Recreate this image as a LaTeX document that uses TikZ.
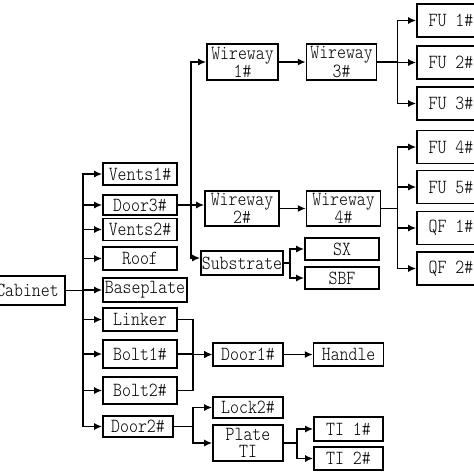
\documentclass[tikz,border=0pt]{standalone}
\usepackage{fontspec}
\newfontfamily\boxfont{lmmonolt10-regular.otf}[FakeStretch=0.85]
\usetikzlibrary{arrows.meta, positioning}
\tikzstyle{block} = [draw, fill=white, rectangle, line width=1.6pt,
    inner sep=0pt, minimum height=22pt, minimum width=74pt, align=center,
    font=\boxfont\fontsize{20}{17}\selectfont]
\tikzstyle{tall} = [minimum height=36pt]
\tikzstyle{unit} = [minimum height=33pt, minimum width=68pt]
\tikzstyle{link} = [line width=1.6pt]

\begin{document}
\begin{tikzpicture}[x=1pt, y=-1pt, >={Latex[length=8pt,width=7pt]}]
    \useasboundingbox (0,0) rectangle (474,474);
    % cabinet and its parts
    \node [block, minimum height=29pt, minimum width=75pt] (cabinet) at (27.5,290.5) {Cabinet};
    \node [block] (vents1) at (140,174) {Vents1\#};
    \node [block, minimum height=20pt] (door3) at (140,205) {Door3\#};
    \node [block] (vents2) at (140,229.5) {Vents2\#};
    \node [block, minimum height=23pt] (roof) at (140,258.5) {Roof};
    \node [block, minimum width=84pt, minimum height=24pt] (baseplate) at (145,290) {Baseplate};
    \node [block, minimum height=23pt] (linker) at (140,319.5) {Linker};
    \node [block, minimum height=28pt] (bolt1) at (140,354) {Bolt1\#};
    \node [block, minimum height=27pt] (bolt2) at (140,390.5) {Bolt2\#};
    \node [block, minimum width=70pt, minimum height=21pt] (door2) at (138,426.5) {Door2\#};
    % wireways
    \node [block, tall, minimum width=71pt] (wireway1) at (242.5,62) {Wireway\\1\#};
    \node [block, tall, minimum width=70pt, right=27pt of wireway1] (wireway3) {Wireway\\3\#};
    \node [block, tall, minimum height=35pt] (wireway2) at (242,208.5) {Wireway\\2\#};
    \node [block, tall, minimum height=35pt, right=26pt of wireway2] (wireway4) {Wireway\\4\#};
    \node [block, minimum width=82pt, minimum height=24pt] (substrate) at (242,263) {Substrate};
    \node [block] (sx) at (342,249) {SX};
    \node [block] (sbf) at (342,278) {SBF};
    % units
    \node [block, unit] (fu1) at (451,20.5) {FU 1\#};
    \node [block, unit] (fu2) at (451,62.5) {FU 2\#};
    \node [block, unit] (fu3) at (451,103.5) {FU 3\#};
    \node [block, unit] (fu4) at (451,147) {FU 4\#};
    \node [block, unit] (fu5) at (451,187) {FU 5\#};
    \node [block, unit] (qf1) at (451,228) {QF 1\#};
    \node [block, unit] (qf2) at (451,268.5) {QF 2\#};
    % doors
    \node [block, minimum width=70pt, minimum height=23pt] (door1) at (248,354.5) {Door1\#};
    \node [block, minimum width=70pt, minimum height=23pt, right=29pt of door1] (handle) {Handle};
    \node [block, minimum width=70pt, minimum height=21pt] (lock2) at (248,407.5) {Lock2\#};
    \node [block, tall, minimum width=70pt] (plate) at (248,443) {Plate\\TI};
    \node [block, minimum width=69pt, minimum height=24pt] (ti1) at (348.5,429) {TI 1\#};
    \node [block, minimum width=69pt, minimum height=23pt] (ti2) at (348.5,458.5) {TI 2\#};

    \foreach \n in {vents1,door3,vents2,roof,baseplate,linker,bolt1,bolt2,door2}
        \draw [link,->] (cabinet.east) -- ++(17,0) |- (\n.west);
    \draw [link,->] (door3.east) -- (wireway2.west |- door3.east);
    \draw [link,->] (door3.east) -- ++(13,0) |- (wireway1.west);
    \draw [link,->] (door3.east) -- ++(13,0) |- ([yshift=5pt]substrate.west);
    \draw [link,->] (wireway1) -- (wireway3);
    \draw [link,->] (wireway2) -- (wireway4);
    \foreach \n in {fu1,fu2,fu3}
        \draw [link,->] (wireway3.east) -- ++(20,0) |- (\n.west);
    \foreach \n in {fu4,fu5,qf1,qf2}
        \draw [link,->] (wireway4.east) -- ++(16,0) |- (\n.west);
    \foreach \n in {sx,sbf}
        \draw [link,->] (substrate.east) -- ++(6,0) |- (\n.west);
    \foreach \n in {linker,bolt1,bolt2}
        \draw [link,->] (\n.east) -- ++(15,0) |- (door1.west);
    \draw [link,->] (door1) -- (handle);
    \foreach \n in {lock2,plate}
        \draw [link,->] (door2.east) -- ++(19,0) |- (\n.west);
    \foreach \n in {ti1,ti2}
        \draw [link,->] (plate.east) -- ++(13,0) |- (\n.west);
\end{tikzpicture}
\end{document}
